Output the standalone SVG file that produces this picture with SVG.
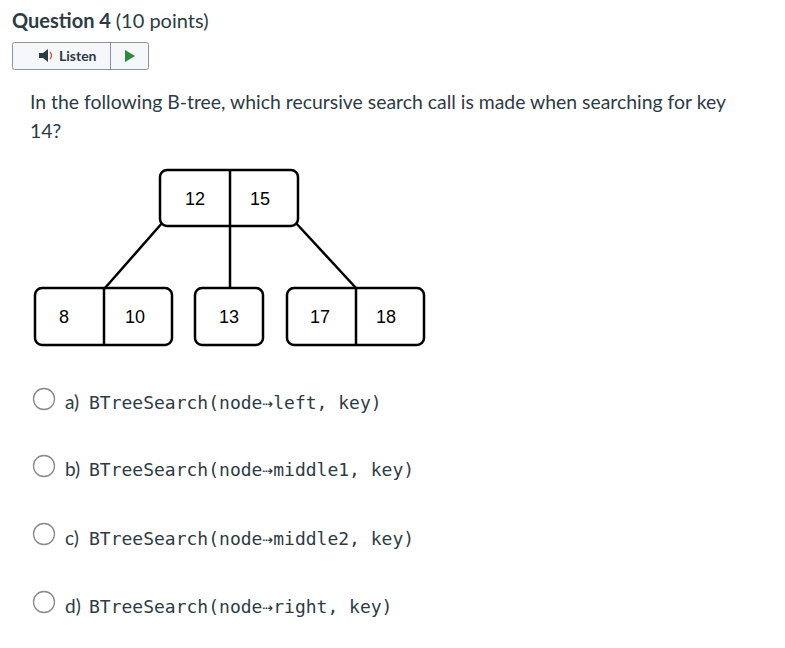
<svg xmlns="http://www.w3.org/2000/svg" width="785" height="648" viewBox="0 0 785 648">
<style>
.s{font-family:Lato,"Liberation Sans",sans-serif;fill:#2d3b45}
.m{font-family:"DejaVu Sans Mono","Liberation Mono",monospace;font-size:18px;fill:#2d3b45}
.k{font-family:"Liberation Sans",Arial,sans-serif;font-size:18px;fill:#000;text-anchor:middle}
.b{fill:#fff;stroke:#000;stroke-width:2.5}
.r{fill:#fff;stroke:#888;stroke-width:1.3}
</style>
<rect width="785" height="648" fill="#fff"/>
<text class="s" x="12" y="28" font-size="20" font-weight="bold">Question 4 <tspan font-weight="normal">(10 points)</tspan></text>
<g id="listen">
<rect x="12.5" y="42.5" width="136" height="27" rx="2" fill="#f5f7fa" stroke="#8a949e"/>
<line x1="110.5" y1="43" x2="110.5" y2="69" stroke="#8a949e"/>
<path d="M39 53h4l5-4v13l-5-4h-4z" fill="#2d3b45"/>
<path d="M50 52q3 3.5 0 7" fill="none" stroke="#e0513c" stroke-width="1.3"/>
<text class="s" x="59" y="61" font-size="14" font-weight="bold">Listen</text>
<path d="M125 50l10 6-10 6z" fill="#2b8a3e"/>
</g>
<text class="s" x="30" y="109" font-size="19.4">In the following B-tree, which recursive search call is made when searching for key</text>
<text class="s" x="30" y="138" font-size="19.4">14?</text>
<g id="connectors" stroke="#000" stroke-width="2.5">
<line x1="163" y1="222" x2="105" y2="288"/>
<line x1="230" y1="226" x2="230" y2="288"/>
<line x1="295" y1="222" x2="356" y2="288"/>
</g>
<g id="root">
<rect class="b" x="160" y="170" width="138" height="56" rx="7"/>
<line x1="230" y1="170" x2="230" y2="226" stroke="#000" stroke-width="2.5"/>
<text class="k" x="195" y="205">12</text><text class="k" x="260" y="205">15</text>
</g>
<g id="left">
<rect class="b" x="35" y="288" width="137" height="57" rx="7"/>
<line x1="104" y1="288" x2="104" y2="345" stroke="#000" stroke-width="2.5"/>
<text class="k" x="64" y="323">8</text><text class="k" x="135" y="323">10</text>
</g>
<g id="middle">
<rect class="b" x="195" y="288" width="68" height="57" rx="7"/>
<text class="k" x="229" y="323">13</text>
</g>
<g id="right">
<rect class="b" x="287" y="288" width="137" height="57" rx="7"/>
<line x1="356" y1="288" x2="356" y2="345" stroke="#000" stroke-width="2.5"/>
<text class="k" x="320" y="323">17</text><text class="k" x="386" y="323">18</text>
</g>
<g id="options">
<circle class="r" cx="44" cy="399" r="10.5"/>
<text x="65" y="409"><tspan class="s" font-size="19">a)</tspan><tspan class="m" x="89">BTreeSearch(node⇢left, key)</tspan></text>
<circle class="r" cx="44" cy="466" r="10.5"/>
<text x="65" y="476"><tspan class="s" font-size="19">b)</tspan><tspan class="m" x="89">BTreeSearch(node⇢middle1, key)</tspan></text>
<circle class="r" cx="44" cy="534" r="10.5"/>
<text x="65" y="545"><tspan class="s" font-size="19">c)</tspan><tspan class="m" x="89">BTreeSearch(node⇢middle2, key)</tspan></text>
<circle class="r" cx="44" cy="602" r="10.5"/>
<text x="65" y="613"><tspan class="s" font-size="19">d)</tspan><tspan class="m" x="89">BTreeSearch(node⇢right, key)</tspan></text>
</g>
</svg>
